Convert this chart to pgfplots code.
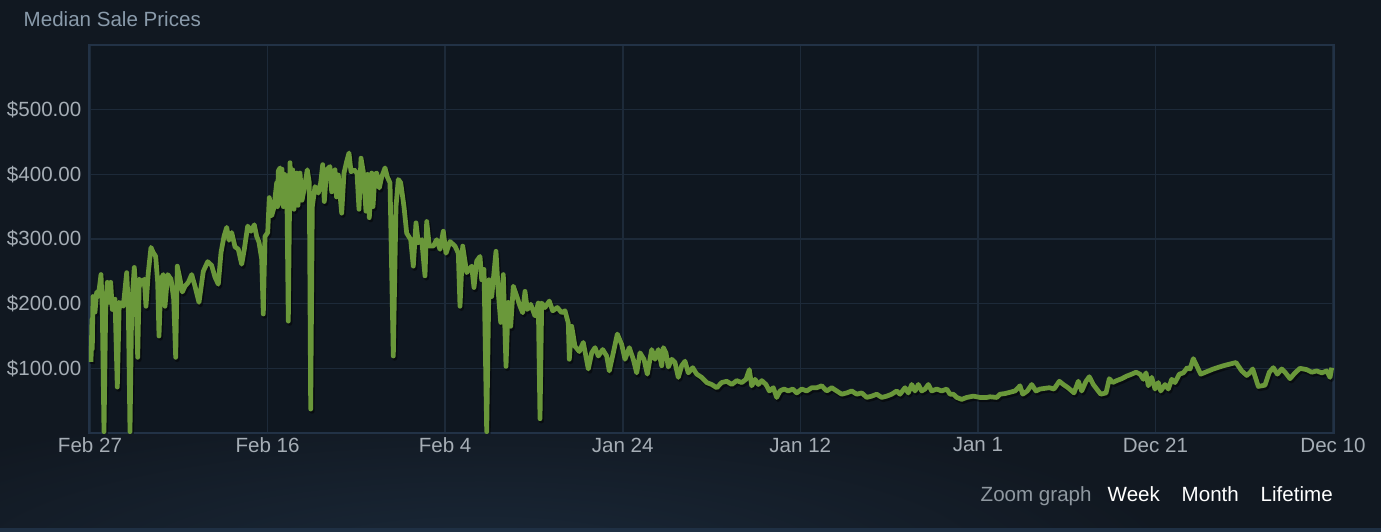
\documentclass[border=0pt]{standalone}
\usepackage{pgfplots}
\pgfplotsset{compat=1.18}
\usepackage{pgfplotstable}
\usepackage{fontspec}
\setmainfont{Liberation Sans}
\definecolor{pagebg}{HTML}{111821}
\definecolor{glowbg}{HTML}{1A2838}
\definecolor{bottomc}{HTML}{1F3044}
\definecolor{plotbg}{HTML}{0F1720}
\definecolor{gridc}{HTML}{1D2A39}
\definecolor{framec}{HTML}{223246}
\definecolor{linec}{RGB}{106,152,58}
\definecolor{labelc}{HTML}{A6AEB6}
\definecolor{titlec}{HTML}{8A9BAB}
\definecolor{zoomc}{HTML}{8F98A0}

\pgfplotstableread[row sep=\\]{
x y\\
91 110\\ 92 176\\ 92.3 130\\ 93 211\\ 95 187\\ 96.7 218\\ 98.3 211\\ 101 245\\ 102.3 191\\ 104 2\\
105.7 191\\ 107.3 233\\ 109 202\\ 110.7 233\\ 112.3 191\\ 115 207\\ 117.3 71\\ 119.3 202\\ 123.3 196\\ 126.7 248\\
128.3 196\\ 130 2\\ 131.7 196\\ 134.3 256\\ 136 216\\ 137.7 117\\ 139.3 238\\ 141.7 230\\ 144.3 238\\ 146 196\\
148.3 248\\ 151 287\\ 153.3 279\\ 155.7 273\\ 157.7 233\\ 159 150\\ 161 238\\ 163.3 245\\ 165 196\\ 167.7 245\\
171 238\\ 173.7 207\\ 175.7 117\\ 177.3 258\\ 180 238\\ 182.3 218\\ 185 227\\ 188.3 233\\ 191.7 245\\ 195 227\\
199 202\\ 203.3 250\\ 207.7 265\\ 211.7 259\\ 215 241\\ 218.3 230\\ 221 279\\ 224 304\\ 226.7 318\\ 229 298\\
231.7 310\\ 235 288\\ 238.3 284\\ 241.7 261\\ 244.3 284\\ 247.7 320\\ 251 312\\ 254.3 322\\ 256.7 304\\ 259 295\\
261.7 269\\ 263.3 184\\ 265 304\\ 267.7 310\\ 269.3 364\\ 271.7 336\\ 274 349\\ 276.7 387\\ 277.5 350\\ 278.3 405\\
280 410\\ 281 355\\ 282 408\\ 283.3 350\\ 284.5 400\\ 285.5 352\\
286.7 398\\ 288.3 173\\ 290 418\\ 291.3 360\\ 292.7 407\\ 294 346\\ 296.7 402\\ 298 352\\ 300 402\\ 302 360\\ 304 376\\ 307.3 407\\ 309.3 387\\
310.7 37\\ 312.3 350\\ 315 381\\ 318.3 371\\ 320.7 387\\ 322.7 415\\ 324.3 358\\ 326.7 407\\ 330 412\\ 331.7 373\\
335 407\\ 336.5 365\\ 338.3 399\\ 341.7 340\\ 344 402\\ 346.7 420\\ 349 433\\ 351 404\\ 354 407\\ 357 402\\ 359 346\\
361 425\\ 363.3 404\\ 366 343\\ 367.5 400\\ 369.3 333\\ 371.7 402\\ 373 350\\ 375 400\\ 376.7 402\\ 379.3 379\\ 381.7 396\\ 385 410\\ 387.3 396\\
390 387\\ 393.3 119\\ 396 350\\ 398.3 392\\ 400.7 387\\ 404 350\\ 406.7 309\\ 410.7 299\\ 413.3 258\\ 416 325\\
418.3 294\\ 421.7 299\\ 425 243\\ 426.7 327\\ 429.3 289\\ 433.3 289\\ 436.7 299\\ 440 284\\ 443.3 312\\ 446 278\\
450 296\\ 455 289\\ 458.3 278\\ 460 196\\ 462.7 289\\ 466.7 248\\ 471.7 258\\ 474 225\\ 476.7 266\\ 480 273\\
481.7 237\\ 484 253\\ 486.7 2\\ 489 237\\ 491.7 211\\ 496 281\\ 498.3 217\\ 500.7 171\\ 503.3 245\\ 506 103\\
508.3 202\\ 510.7 165\\ 513.3 227\\ 516.7 212\\ 520 196\\ 522.7 186\\ 525 219\\ 527.3 191\\ 530.7 199\\ 535 181\\
538.3 201\\ 540 22\\ 541.7 201\\ 545 194\\ 549.3 204\\ 552.7 189\\ 557.3 194\\ 561.7 186\\ 565 189\\ 568.3 170\\
569.3 114\\ 571.7 165\\ 575 134\\ 579.3 126\\ 583.3 140\\ 588.3 99\\ 591.7 124\\ 595 132\\ 598.3 119\\ 602.7 129\\
606.7 119\\ 609.3 96\\ 613.3 124\\ 617.3 153\\ 621.7 137\\ 625 114\\ 629.3 132\\ 633.3 114\\ 636.7 93\\ 640 124\\
644 114\\ 647.3 91\\ 651.7 129\\ 655 114\\ 658.3 129\\ 661.7 104\\ 663.3 132\\ 666 124\\ 668.3 102\\ 671.7 114\\
675 109\\ 678.3 86\\ 681.7 104\\ 685 111\\ 688.3 93\\ 692.7 101\\ 696.7 91\\ 701.7 86\\ 706.7 78\\ 711.7 75\\
716.7 70\\ 721.7 78\\ 726.7 80\\ 731.7 75\\ 736.7 81\\ 741.7 78\\ 746 83\\ 749.3 98\\ 751.7 73\\ 755 83\\
758.3 75\\ 761.7 81\\ 766 75\\ 769.3 65\\ 773.3 70\\ 776.7 55\\ 780 65\\ 784 68\\ 788.3 65\\ 792.7 68\\
796.7 62\\ 801.7 68\\ 806.7 65\\ 811.7 70\\ 816.7 70\\ 821.7 73\\ 826.7 65\\ 831.7 70\\ 836.7 65\\ 841.7 60\\
846.7 62\\ 851.7 65\\ 856.7 60\\ 861.7 62\\ 866.7 55\\ 871.7 57\\ 876.7 60\\ 881.7 55\\ 886.7 57\\ 891.7 60\\
896.7 65\\ 900 60\\ 905 70\\ 908.3 62\\ 911.7 75\\ 915 65\\ 918.3 75\\ 921.7 65\\ 925 68\\ 928.3 75\\
931.7 65\\ 936.7 68\\ 941.7 65\\ 946.7 68\\ 950 60\\ 953.3 60\\ 956.7 55\\ 961.7 52\\ 966.7 55\\ 973.3 57\\
980 55\\ 986.7 55\\ 990 56\\ 996.7 55\\ 1000 60\\ 1005 61\\ 1010 63\\ 1015 65\\ 1020 73\\ 1022.7 60\\
1027.3 65\\ 1031.7 75\\ 1036 65\\ 1040 68\\ 1044.7 69\\ 1049.3 70\\ 1054 68\\ 1059.3 80\\ 1063.3 75\\ 1068 70\\
1074 62\\ 1078.3 80\\ 1081.7 65\\ 1086 80\\ 1089.3 87\\ 1093.3 75\\ 1096.7 68\\ 1100.7 60\\ 1106 62\\ 1109.3 84\\
1112.7 78\\ 1116.7 81\\ 1121.7 84\\ 1126.7 88\\ 1131.7 91\\ 1136 94\\ 1140 91\\ 1143.3 83\\ 1146 93\\ 1148.3 73\\
1151.7 86\\ 1155 68\\ 1158.3 78\\ 1160.7 65\\ 1165 75\\ 1168.3 68\\ 1171.7 83\\ 1175 78\\ 1179.3 91\\ 1183.3 93\\
1187.3 101\\ 1190 99\\ 1193.3 115\\ 1196.7 104\\ 1200.7 91\\ 1213.3 99\\ 1223.3 104\\ 1236 109\\ 1241.7 96\\ 1246.7 89\\
1249.7 93\\ 1252.7 99\\ 1258.3 72\\ 1265 74\\ 1269.3 94\\ 1273.3 101\\ 1277.3 91\\ 1281.7 99\\ 1285 94\\ 1290 84\\
1295 93\\ 1300 100\\ 1306.7 98\\ 1311.7 94\\ 1316.7 96\\ 1321.7 93\\ 1326.7 96\\ 1330 86\\ 1331.7 101\\
}\pricedata

\begin{document}
\begin{tikzpicture}[font=\fontsize{5.85}{7}\selectfont]
\useasboundingbox (0,0) rectangle (13.81,5.31);
\fill[pagebg] (-0.2,-0.2) rectangle (14.01,5.51);
\begin{scope}
\clip (-0.2,-0.2) rectangle (14.01,5.51);
\shade[inner color=glowbg, outer color=pagebg] (4.8,-0.3) ellipse (7 and 1.6);
\fill[bottomc] (-0.2,-0.2) rectangle (14.01,0.03);
\end{scope}
\begin{axis}[
  at={(0.89cm,0.98cm)}, anchor=south west,
  width=12.45cm, height=3.88cm, scale only axis,
  xmin=89, xmax=1334, ymin=0, ymax=600,
  xtick={90,267.6,445.1,622.7,800.3,977.9,1155.4,1333},
  xticklabels={Feb 27,Feb 16,Feb 4,Jan 24,Jan 12,Jan 1,Dec 21,Dec 10},
  ytick={100,200,300,400,500},
  yticklabels={\$100.00,\$200.00,\$300.00,\$400.00,\$500.00},
  grid=major,
  major grid style={color=gridc, line width=0.45pt},
  major tick length=0pt,
  tick style={draw=none},
  axis line style={color=framec, line width=0.6pt},
  axis background/.style={fill=plotbg},
  ticklabel style={font=\fontsize{5.85}{7}\selectfont, text=labelc},
  xticklabel style={anchor=north, inner sep=0pt, yshift=-0.04cm},
  yticklabel style={anchor=east, inner sep=0pt, xshift=-0.07cm},
]
\addplot[black, opacity=0.45, line width=1.45pt, line join=round, xshift=0.4pt, yshift=-0.6pt] table[x=x,y=y] {\pricedata};
\addplot[linec, line width=1.35pt, line join=round] table[x=x,y=y] {\pricedata};
\end{axis}
\node[anchor=base west, inner sep=0pt, text=titlec] at (0.23,5.04) {Median Sale Prices};
\node[anchor=base west, inner sep=0pt, text=zoomc] at (9.80,0.30) {Zoom graph};
\node[anchor=base west, inner sep=0pt, text=white] at (11.07,0.30) {Week};
\node[anchor=base west, inner sep=0pt, text=white] at (11.81,0.30) {Month};
\node[anchor=base west, inner sep=0pt, text=white] at (12.60,0.30) {Lifetime};
\end{tikzpicture}
\end{document}
